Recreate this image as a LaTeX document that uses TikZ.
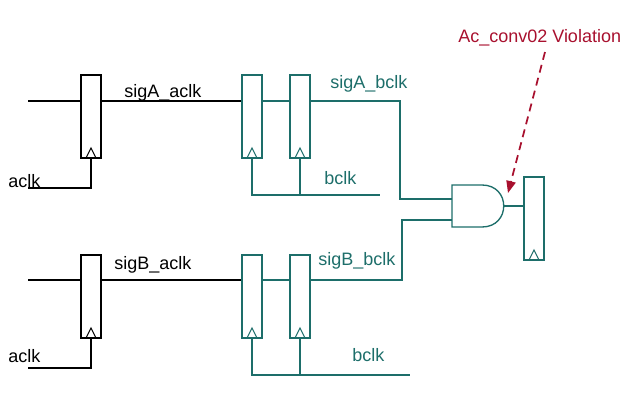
\documentclass[tikz,border=0pt]{standalone}
\usepackage{fontspec}
\setmainfont{Liberation Sans}
\usetikzlibrary{arrows.meta}
\definecolor{tl}{HTML}{1D6E6A}
\definecolor{rd}{HTML}{A8102E}
\begin{document}
\begin{tikzpicture}[x=0.75pt,y=-0.75pt,
  ff/.style={draw=#1,line width=0.8pt,fill=white},
  w/.style={line width=1.2pt,#1},
  lab/.style={font=\fontsize{13.5}{15}\selectfont,text=#1,inner sep=0pt}]
\useasboundingbox (0,0) rectangle (640,400);
\newcommand{\flop}[4]{% x, ytop, color, name
  \draw[ff=#3] (#1,#2) rectangle ++(20,83);
  \coordinate (#4c) at (#1+10,#2+83);
  \draw[#3,line width=0.7pt] (#1+5,#2+83) -- (#1+10,#2+73) -- (#1+15,#2+83);}
% row A
\draw[w=black] (28,101) -- (242,101);
\draw[w=black] (28,188) -- (91,188) -- (91,158);
\draw[w=tl] (262,101) -- (290,101);
\draw[w=tl] (310,101) -- (400,101) -- (400,199) -- (455,199);
\draw[w=tl] (252,158) -- (252,195) -- (380,195);
\draw[w=tl] (300,158) -- (300,195);
% row B
\draw[w=black] (28,280) -- (242,280);
\draw[w=black] (28,368) -- (91,368) -- (91,338);
\draw[w=tl] (262,280) -- (290,280);
\draw[w=tl] (310,280) -- (402,280) -- (402,220) -- (455,220);
\draw[w=tl] (252,338) -- (252,375) -- (410,375);
\draw[w=tl] (300,338) -- (300,375);
\flop{81}{75}{black}{a1}
\flop{242}{75}{tl}{a2}
\flop{290}{75}{tl}{a3}
\flop{81}{255}{black}{b1}
\flop{242}{255}{tl}{b2}
\flop{290}{255}{tl}{b3}
% gate
\draw[ff=tl,line width=1pt] (452,185) -- (482,185) .. controls (511,185) and (511,227) .. (482,227) -- (452,227) -- cycle;
\draw[w=tl] (504,206) -- (524,206);
\flop{524}{177}{tl}{c1}
% labels
\node[lab=black,anchor=west] at (124,93) {sigA\_aclk};
\node[lab=black,anchor=west] at (114,265) {sigB\_aclk};
\node[lab=black,anchor=west] at (8,181) {aclk};
\node[lab=black,anchor=west] at (8,356) {aclk};
\node[lab=tl,anchor=west] at (330,84) {sigA\_bclk};
\node[lab=tl,anchor=west] at (318,261) {sigB\_bclk};
\node[lab=tl,anchor=west] at (324,178) {bclk};
\node[lab=tl,anchor=west] at (352,355) {bclk};
\node[lab=rd,anchor=west] (v) at (458,38) {Ac\_conv02 Violation};
\coordinate (t) at (508,193);
\draw[rd,line width=1.3pt,dash pattern=on 6pt off 4pt,-{Triangle[length=9pt,width=7pt]}] (545,52) -- (t);
\end{tikzpicture}
\end{document}
